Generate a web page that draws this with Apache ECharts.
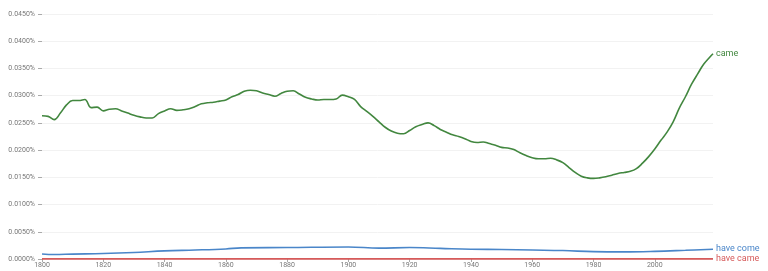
<!DOCTYPE html>
<html><head><meta charset="utf-8">
<script src="https://cdn.jsdelivr.net/npm/echarts@6/dist/echarts.min.js"></script>
<style>html,body{margin:0;padding:0;background:#fff}#c{width:768px;height:271px}</style>
</head><body><div id="c"></div>
<script>
var cameYears = [1800,1802,1804,1806,1808,1810,1812,1814,1816,1818,1820,1822,1824,1826,1828,1830,1832,1834,1836,1838,1840,1842,1844,1846,1848,1850,1852,1854,1856,1858,1860,1862,1864,1866,1868,1870,1872,1874,1876,1878,1880,1882,1884,1886,1888,1890,1892,1894,1896,1898,1900,1902,1904,1906,1908,1910,1912,1914,1916,1918,1920,1922,1924,1926,1928,1930,1932,1934,1936,1938,1940,1942,1944,1946,1948,1950,1952,1954,1956,1958,1960,1962,1964,1966,1968,1970,1972,1974,1976,1978,1980,1982,1984,1986,1988,1990,1992,1994,1996,1998,2000,2002,2004,2006,2008,2010,2012,2014,2016,2018,2019];
var cameValues = [0.0263,0.0262,0.0256,0.0268,0.0283,0.0291,0.0291,0.0293,0.0278,0.0279,0.0272,0.0275,0.0276,0.0272,0.0268,0.0264,0.0261,0.0259,0.0259,0.0267,0.0272,0.0276,0.0273,0.0274,0.0276,0.0280,0.0285,0.0287,0.0288,0.0290,0.0292,0.0298,0.0302,0.0308,0.0310,0.0309,0.0305,0.0302,0.0299,0.0304,0.0308,0.0309,0.0303,0.0297,0.0294,0.0292,0.0293,0.0293,0.0294,0.0301,0.0298,0.0293,0.0280,0.0271,0.0262,0.0252,0.0242,0.0235,0.0231,0.0230,0.0236,0.0243,0.0247,0.0250,0.0245,0.0238,0.0233,0.0228,0.0225,0.0221,0.0216,0.0214,0.0215,0.0212,0.0209,0.0205,0.0204,0.0201,0.0195,0.0190,0.0186,0.0184,0.0184,0.0185,0.0182,0.0177,0.0168,0.0159,0.0152,0.0149,0.0148,0.0149,0.0151,0.0154,0.0157,0.0159,0.0161,0.0166,0.0176,0.0188,0.0202,0.0218,0.0233,0.0252,0.0277,0.0298,0.0321,0.0340,0.0358,0.0371,0.0377];
var haveComeYears = [1800,1804,1810,1820,1830,1840,1850,1860,1865,1880,1900,1910,1920,1930,1940,1950,1960,1970,1980,1990,2000,2010,2019];
var haveComeValues = [0.00092,0.00082,0.00090,0.00100,0.00120,0.00150,0.00165,0.00185,0.00205,0.00210,0.00220,0.00200,0.00210,0.00195,0.00180,0.00175,0.00165,0.00155,0.00135,0.00130,0.00140,0.00160,0.00180];
var haveCameYears = [1800,1850,1900,1950,2000,2019];
var haveCameValues = [0.00001,0.00001,0.00001,0.00001,0.00001,0.00001];
var yTicks = {min:0, max:0.045, interval:0.005};
var xTicks = {min:1800, max:2019, interval:20};

function pairs(xs, ys){ return xs.map(function(x,i){return [x, ys[i]];}); }

var chart = echarts.init(document.getElementById('c'));
var endLab = function(color){ return {show:true, formatter:'{a}', color:color, fontSize:9, fontFamily:'Roboto', distance:3}; };
chart.setOption({
  animation:false,
  grid:{left:42, right:55, top:14, bottom:12},
  xAxis:{type:'value', min:xTicks.min, max:xTicks.max, interval:xTicks.interval,
    axisLine:{show:false}, splitLine:{show:false},
    axisTick:{show:true, length:3, lineStyle:{color:'#aaa'}},
    axisLabel:{color:'#777', fontSize:7, fontFamily:'Roboto', margin:3, showMaxLabel:false, formatter:function(v){return String(v);}}},
  yAxis:{type:'value', min:yTicks.min, max:yTicks.max, interval:yTicks.interval,
    axisLine:{show:false},
    axisTick:{show:true, length:4, lineStyle:{color:'#aaa'}},
    splitLine:{show:true, lineStyle:{color:'#f2f2f2', width:1}},
    axisLabel:{color:'#777', fontSize:7, fontFamily:'Roboto', margin:7, formatter:function(v){return v.toFixed(4)+'%';}}},
  series:[
    {name:'came', type:'line', smooth:0.4, symbol:'none', data:pairs(cameYears,cameValues),
      lineStyle:{color:'#42873f', width:1.6}, itemStyle:{color:'#42873f'}, endLabel:endLab('#42873f')},
    {name:'have come', type:'line', smooth:0.4, symbol:'none', data:pairs(haveComeYears,haveComeValues),
      lineStyle:{color:'#4a86c9', width:1.6}, itemStyle:{color:'#4a86c9'}, endLabel:endLab('#4a86c9')},
    {name:'have came', type:'line', smooth:0.4, symbol:'none', data:pairs(haveCameYears,haveCameValues),
      lineStyle:{color:'#d65a5a', width:1.8}, itemStyle:{color:'#d65a5a'}, endLabel:endLab('#d65a5a')}
  ]
});
</script></body></html>
